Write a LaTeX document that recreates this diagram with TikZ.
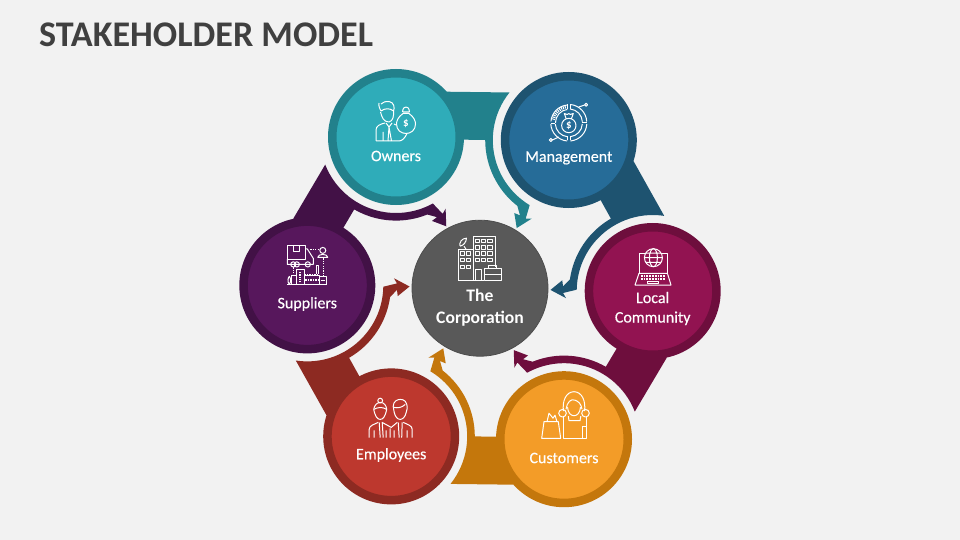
\documentclass[tikz,border=0pt]{standalone}
\usepackage{fontspec}
\setmainfont{Carlito}
\newfontfamily\tagfont[FakeBold=0.35]{Carlito}
\usetikzlibrary{backgrounds}
\definecolor{pagegray}{HTML}{F2F2F2}
\definecolor{titlegray}{HTML}{404040}
\definecolor{corpfill}{HTML}{595959}
\definecolor{corpedge}{HTML}{4D4D4D}
\definecolor{ownersfill}{HTML}{2FACB9}
\definecolor{ownersdark}{HTML}{22818C}
\definecolor{mgmtfill}{HTML}{266C98}
\definecolor{mgmtdark}{HTML}{1E5370}
\definecolor{localfill}{HTML}{921351}
\definecolor{localdark}{HTML}{6E0E3D}
\definecolor{custfill}{HTML}{F39C28}
\definecolor{custdark}{HTML}{C4770C}
\definecolor{empfill}{HTML}{BD382E}
\definecolor{empdark}{HTML}{8D2A22}
\definecolor{suppfill}{HTML}{57175C}
\definecolor{suppdark}{HTML}{421146}
\tikzset{
  hub/.style={draw,shape=circle,line width=8.5pt,minimum size=127.5pt,inner sep=0pt,outer sep=0pt},
  corpnode/.style={draw=corpedge,fill=corpfill,shape=circle,line width=.8pt,minimum size=136pt,inner sep=0pt,outer sep=0pt},
  tag/.style={text=white,font=\fontsize{16}{19.5}\tagfont,align=center,inner sep=0pt},
  corptag/.style={text=white,font=\fontsize{17.6}{21}\selectfont\bfseries,align=center,inner sep=0pt},
  icon/.style={draw=white,line width=1pt,line join=round},
  sign/.style={text=white,font=\fontsize{11}{11}\selectfont\bfseries,inner sep=0pt}
}
\begin{document}
\begin{tikzpicture}[x=1pt,y=1pt]
\useasboundingbox (0,0) rectangle (960,-540);
\node[anchor=west,text=titlegray,font=\fontsize{36.1}{40}\selectfont\bfseries,inner sep=0pt] (title) at (39,-34.5) {STAKEHOLDER MODEL};
\node[corpnode] (corp) at (480,-288.2) {};
\foreach \name/\pos/\inner/\ring in {owners/{396,-137}/ownersfill/ownersdark,
    management/{568.8,-140}/mgmtfill/mgmtdark,
    community/{652.7,-291}/localfill/localdark,
    customers/{564,-439.2}/custfill/custdark,
    employees/{391.2,-436.4}/empfill/empdark,
    suppliers/{307.3,-285.4}/suppfill/suppdark}
  \node[hub,draw=\ring,fill=\inner] (\name) at (\pos) {};
\begin{scope}[on background layer]
\fill[pagegray] (0,0) rectangle (960,-540);
\foreach \src/\dst/\k/\tone in {owners/management/0/ownersdark,
    management/community/1/mgmtdark,
    community/customers/2/localdark,
    customers/employees/3/custdark,
    employees/suppliers/4/empdark,
    suppliers/owners/5/suppdark}
{
  \pgfmathsetmacro\turn{-60*\k}
  \coordinate (topa) at ([shift={(\turn+99.53:199.25)}]corp.center);
  \coordinate (topb) at ([shift={(\turn+141.3:76)}]\dst.center);
  \coordinate (neckr) at ([shift={(\turn+56.7:83.2)}]corp.center);
  \coordinate (wingr) at ([shift={(\turn+53.4:86.6)}]corp.center);
  \coordinate (tip) at ([shift={(\turn+58.6:70.5)}]corp.center);
  \coordinate (wingl) at ([shift={(\turn+65.5:82.65)}]corp.center);
  \coordinate (neckl) at ([shift={(\turn+61.2:83.06)}]corp.center);
  \coordinate (backa) at ([shift={(\turn+232:83.6)}]\dst.center);
  \coordinate (foot) at ([shift={(\turn+96.5:149.5)}]corp.center);
  \fill[\tone] (\src.center) -- (topa) -- (topb)
    arc[start angle=\turn+141.3,delta angle=97.7,radius=76]
    -- (neckr) -- (wingr) -- (tip) -- (wingl) -- (neckl) -- (backa)
    arc[start angle=\turn+232,delta angle=-52,radius=83.6]
    -- (foot) -- cycle;
}
\end{scope}
\node[corptag] (corptext) at (480,-307.5) {The\\[.6pt]Corporation};
\node[tag] (ownerstext) at (396,-156) {Owners};
\node[tag] (managementtext) at (568.8,-158) {Management};
\node[tag] (communitytext) at (652.7,-308.5) {Local\\Community};
\node[tag] (customerstext) at (564,-458) {Customers};
\node[tag] (employeestext) at (391.2,-455) {Employees};
\node[tag] (supplierstext) at (307.3,-304) {Suppliers};
\begin{scope}[shift={(480,-288.2)}]
\draw[icon] (-21.7,7.5) rectangle (-6.7,38.9) (-6.7,7.5) -- (-6.7,52.2) -- (15,52.2) -- (15,21.5);
\draw[icon] (-21.7,7.5) -- (4,7.5) (-4.3,7.5) -- (-4.3,18.9) -- (1.7,18.9) -- (1.7,7.5);
\foreach \x in {-5,1,7.7} \foreach \y in {45.6,39.2,33.2,26.6}
  \draw[icon,line width=.7pt] (\x,\y) rectangle ++(4.3,3.3);
\foreach \x in {-20,-14} \foreach \y in {33.2,26.6,19.9}
  \draw[icon,line width=.7pt] (\x,\y) rectangle ++(4.5,3.3);
\draw[icon] (4,7.5) rectangle (21.7,19.9) (8.8,19.9) -- (8.8,23) -- (16.5,23) -- (16.5,19.9) (4,14) -- (21.7,14);
\draw[icon] (-20,42) .. controls (-16,43) and (-14,46) .. (-13.5,50) .. controls (-18,50) and (-21,46) .. (-20,42) (-16,42) -- (-14,39);
\end{scope}
\begin{scope}[shift={(396,-137)}]
\draw[icon] (-15.5,25) .. controls (-14,19) and (-12,15) .. (-7,15) .. controls (-3,16) and (-2,21) .. (-2.5,26);
\draw[icon] (-17,34) .. controls (-17.5,30) and (-16,28) .. (-15,26) .. controls (-11,29) and (-6,29) .. (-2.5,26) .. controls (-1,29) and (-2,35) .. (-7,35.5) .. controls (-10,36) and (-13,35) .. (-15,33);
\draw[icon] (-20,-4) -- (-20,7) .. controls (-20,11) and (-16,13) .. (-11,14) (-2,13) -- (0,12);
\draw[icon] (-20,-4) -- (3,-4) .. controls (6,-4) and (9,-1) .. (11,3.5);
\draw[icon] (-10,14) -- (-7,10) -- (-4,14) (-7,10) -- (-8,-4) (-7,10) -- (-4.5,-4) (-13,-4) -- (-13,5);
\draw[icon] (10,30) .. controls (8,30) and (7,29) .. (6.5,25) (10,30) .. controls (12,30) and (13,29) .. (13.5,25) (6.5,25) -- (13.5,25)
  (7,23.5) .. controls (2,20) and (0.5,16) .. (0.5,13) .. controls (0.5,7) and (5,3.5) .. (10,3.5) .. controls (15,3.5) and (19.5,7) .. (19.5,13) .. controls (19.5,16) and (18,20) .. (13,23.5) -- (7,23.5);
\node[sign] (bagsign) at (10,13) {\$};
\end{scope}
\begin{scope}[shift={(568.8,-140)}]
\draw[icon] (-1.5,35) arc[start angle=95,end angle=175,radius=18];
\draw[icon] (-1.5,30.6) arc[start angle=97,end angle=180,radius=13.5];
\draw[icon,dash pattern=on 1pt off 1pt,line width=3pt] (-3,33) arc[start angle=100,end angle=170,radius=15.5];
\draw[icon] (1.5,35.5) arc[start angle=85,end angle=3,radius=18] (1.5,31) arc[start angle=84,end angle=3,radius=13.5];
\draw[icon] (18,17) -- (13.5,17) (-18,16) -- (-13.5,16) (1.5,35.5) -- (1.5,31) (-1.5,35.5) -- (-1.5,31);
\draw[icon] (18,16) arc[start angle=-3,end angle=-85,radius=18] (13.5,16) arc[start angle=-3,end angle=-84,radius=13.5];
\draw[icon] (-18,16) arc[start angle=183,end angle=265,radius=18] (-13.5,16) arc[start angle=183,end angle=264,radius=13.5];
\draw[icon] (1.5,-.5) -- (1.5,4) (-1.5,-.5) -- (-1.5,4);
\draw[icon] (0,14.5) circle (7.2);
\draw[icon] (-2.5,21) -- (-4.5,26.5) -- (-1.5,25.5) -- (0,26.5) -- (1.5,25.5) -- (4.5,26.5) -- (2.5,21);
\node[sign] (mgmtsign) at (0,14.5) {\$};
\draw[icon] (17.3,35.3) circle (1.5) (15.8,35) -- (10,33);
\draw[icon] (-18,0) circle (1.5) (-16.5,0) -- (-10,3);
\end{scope}
\begin{scope}[shift={(652.7,-291)}]
\draw[icon] (-13.7,17.7) -- (-13.7,37.7) -- (-7,37.7) (8.5,37.7) -- (14.7,37.7) -- (14.7,17.7);
\draw[icon] (-13.7,17.7) -- (-17.7,6) -- (18.3,6) -- (14.7,17.7) -- cycle;
\draw[icon] (.7,33.3) circle (9);
\draw[icon] (.7,33.3) ellipse (4 and 9) (-8.3,33.3) -- (9.7,33.3) (-7,38) -- (8.4,38) (-7,28.6) -- (8.4,28.6);
\foreach \y in {15,12.3} \draw[icon,line width=1.8pt,dash pattern=on 1.8pt off 1pt] (-12,\y) -- (13,\y);
\draw[icon] (-5,10) rectangle (5.5,7.5);
\end{scope}
\begin{scope}[shift={(564,-439.2)}]
\draw[icon] (-.5,28) .. controls (-2,38) and (2,47.5) .. (10,47.5) .. controls (18,47.5) and (22,38) .. (20.5,28);
\draw[icon] (2,30) .. controls (3,37) and (7,41) .. (11,39) .. controls (14,38) and (17,36) .. (18,30);
\draw[icon] (3.5,32) .. controls (4,26) and (7,23.5) .. (10,23.5) .. controls (13,23.5) and (16,26) .. (16.5,32);
\draw[icon] (-1.5,26) circle (3.8) (21.5,26) circle (3.8);
\draw[icon] (4.3,23) -- (5,18.5) -- (16,18.5) -- (16.8,23);
\draw[icon] (-.5,22) -- (-.5,.9) -- (22,.9) -- (22,22) (22,13) -- (18,13) -- (18,.9);
\draw[icon] (-20,17.5) -- (-5.7,17.5) -- (-3.3,.9) -- (-22.3,.9) -- cycle;
\draw[icon] (-17,17.5) -- (-15,26) -- (-11,21) -- (-9,24) -- (-7,17.5);
\end{scope}
\begin{scope}[shift={(391.2,-436.4)}]
\draw[icon] (-17.5,27) .. controls (-17,31) and (-14,34) .. (-11,34) .. controls (-7,34) and (-5,31) .. (-4.5,27);
\draw[icon] (-17.5,27) .. controls (-16,20) and (-14,17) .. (-11,17) .. controls (-8,17) and (-6,20) .. (-4.5,27) .. controls (-9,30) and (-14,29) .. (-17.5,27);
\draw[icon] (-11,35.8) circle (2.4);
\draw[icon] (2,30) .. controls (2,35) and (6,37) .. (9,37) .. controls (13,37) and (16,35) .. (16,28) -- (15,24) .. controls (14,19) and (11,17) .. (9,17) .. controls (6,17) and (4,20) .. (3,24) -- (2,30);
\draw[icon] (2.5,29) .. controls (7,28) and (11,29) .. (14,32);
\draw[icon] (-22,-1.3) -- (-22,7) .. controls (-22,11) and (-17,12) .. (-13,14) (-9,14) .. controls (-6,12) and (-3,11) .. (0,9) .. controls (2,11) and (4,12) .. (6,14) (12,14) .. controls (16,12) and (21,11) .. (21,7) -- (21,-1.3);
\draw[icon] (-17,-1.3) -- (-17,6) (-5,-1.3) -- (-5,6) (-12,14) -- (-11,-1.3) (-9,14) -- (-8,-1.3) (7,14) -- (8,-1.3) (11,14) -- (10.5,-1.3) (3,-1.3) -- (3,6) (16,-1.3) -- (16,6) (-1,-1.3) -- (-1,8);
\end{scope}
\begin{scope}[shift={(307.3,-285.4)}]
\draw[icon] (-2.3,26.4) -- (-20,26.4) -- (-20,39.7) -- (-2.3,39.7) -- cycle (-14,39.7) -- (-14,34) -- (-8,34) -- (-8,39.7);
\draw[icon] (-2.3,36.5) -- (0,36.5) -- (6,27) -- (6,21) -- (-20,21) -- (-20,26.4);
\foreach \x in {-14,-10.5,.5} \draw[icon] (\x,21) circle (2.6);
\draw[icon] (15.5,35) circle (3) (10.5,28) .. controls (10.5,32) and (20.5,32) .. (20.5,28) -- cycle;
\draw[icon,dash pattern=on 1.2pt off 1.2pt] (3,36) -- (12,36) (16,27) -- (16,9) (-14,18) -- (-14,10);
\draw[icon] (-20,1) -- (19.5,1);
\draw[icon] (-10.6,1) rectangle (-3.3,16) (-15.6,1) rectangle (-10.6,10.4);
\draw[icon,line width=2pt,dash pattern=on 1.3pt off 1pt] (-7,3) -- (-7,14);
\draw[icon,line width=1.6pt,dash pattern=on 1.5pt off 1pt] (-3,11) -- (12,11);
\draw[icon] (-3.3,9.5) -- (12,9.5) -- (12,1) (8.7,11) -- (8.7,20) -- (11,20) -- (11,11);
\draw[icon,line width=2pt,dash pattern=on 1.5pt off 1pt] (-2,5.5) -- (11,5.5);
\draw[icon] (12,8.7) rectangle (19.3,1) (13.5,5) -- (18,5);
\draw[icon] (-18,1) .. controls (-20.5,4) and (-19,8) .. (-18,9) .. controls (-17,8) and (-15.5,4) .. (-18,1);
\end{scope}
\end{tikzpicture}
\end{document}
